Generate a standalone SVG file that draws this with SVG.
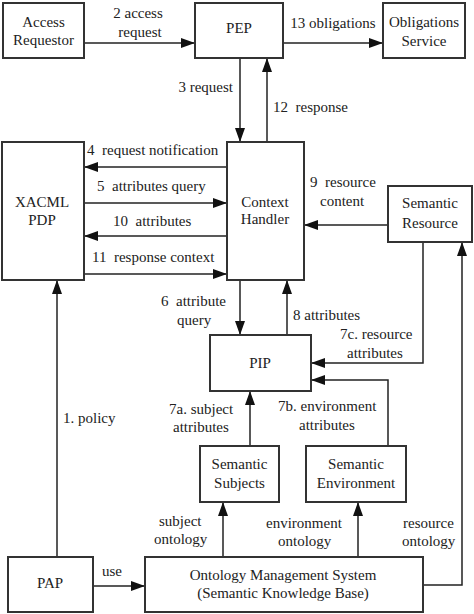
<svg xmlns="http://www.w3.org/2000/svg" width="474" height="614" viewBox="0 0 474 614">
<style>
.box{fill:#fff;stroke:#333;stroke-width:2}
.ln{fill:none;stroke:#222;stroke-width:1.5;marker-end:url(#ah)}
.c{text-anchor:middle}
</style>
<defs>
<marker id="ah" viewBox="0 0 14 10" refX="14" refY="5" markerWidth="14" markerHeight="10" markerUnits="userSpaceOnUse" orient="auto">
<path d="M0,0 L14,5 L0,10 Z" fill="#111"/>
</marker>
</defs>
<rect width="474" height="614" fill="#fff"/>
<g id="connectors">
<path class="ln" d="M84 43 H195"/>
<path class="ln" d="M283 43 H383"/>
<path class="ln" d="M240 58 V142"/>
<path class="ln" d="M267 142 V58"/>
<path class="ln" d="M227 167 H84"/>
<path class="ln" d="M84 203 H227"/>
<path class="ln" d="M227 236 H84"/>
<path class="ln" d="M84 274 H227"/>
<path class="ln" d="M388 225 H304"/>
<path class="ln" d="M240 280 V335"/>
<path class="ln" d="M287 335 V280"/>
<path class="ln" d="M423 242 V363 H311"/>
<path class="ln" d="M388 446 V380 H311"/>
<path class="ln" d="M250 446 V391"/>
<path class="ln" d="M57 557 V280"/>
<path class="ln" d="M223 557 V502"/>
<path class="ln" d="M358 557 V502"/>
<path class="ln" d="M423 585 H462 V242"/>
<path class="ln" d="M93 586 H145"/>
<text font-family="Liberation Serif, DejaVu Serif, serif" font-size="15" fill="#222" class="c" x="138" y="18">2 access</text>
<text font-family="Liberation Serif, DejaVu Serif, serif" font-size="15" fill="#222" class="c" x="140" y="37">request</text>
<text font-family="Liberation Serif, DejaVu Serif, serif" font-size="15" fill="#222" class="c" x="333" y="28">13 obligations</text>
<text font-family="Liberation Serif, DejaVu Serif, serif" font-size="15" fill="#222" x="233" y="92" text-anchor="end">3 request</text>
<text font-family="Liberation Serif, DejaVu Serif, serif" font-size="15" fill="#222" x="273" y="112" xml:space="preserve">12  response</text>
<text font-family="Liberation Serif, DejaVu Serif, serif" font-size="15" fill="#222" x="87" y="155" xml:space="preserve">4  request notification</text>
<text font-family="Liberation Serif, DejaVu Serif, serif" font-size="15" fill="#222" x="97" y="191" xml:space="preserve">5  attributes query</text>
<text font-family="Liberation Serif, DejaVu Serif, serif" font-size="15" fill="#222" x="113" y="226" xml:space="preserve">10  attributes</text>
<text font-family="Liberation Serif, DejaVu Serif, serif" font-size="15" fill="#222" x="92" y="262" xml:space="preserve">11  response context</text>
<text font-family="Liberation Serif, DejaVu Serif, serif" font-size="15" fill="#222" x="310" y="187" xml:space="preserve">9  resource</text>
<text font-family="Liberation Serif, DejaVu Serif, serif" font-size="15" fill="#222" x="320" y="206">content</text>
<text font-family="Liberation Serif, DejaVu Serif, serif" font-size="15" fill="#222" x="161" y="306" xml:space="preserve">6  attribute</text>
<text font-family="Liberation Serif, DejaVu Serif, serif" font-size="15" fill="#222" x="177" y="325">query</text>
<text font-family="Liberation Serif, DejaVu Serif, serif" font-size="15" fill="#222" x="293" y="320">8 attributes</text>
<text font-family="Liberation Serif, DejaVu Serif, serif" font-size="15" fill="#222" x="340" y="339">7c. resource</text>
<text font-family="Liberation Serif, DejaVu Serif, serif" font-size="15" fill="#222" x="347" y="358">attributes</text>
<text font-family="Liberation Serif, DejaVu Serif, serif" font-size="15" fill="#222" x="278" y="411">7b. environment</text>
<text font-family="Liberation Serif, DejaVu Serif, serif" font-size="15" fill="#222" x="299" y="430">attributes</text>
<text font-family="Liberation Serif, DejaVu Serif, serif" font-size="15" fill="#222" x="169" y="414">7a. subject</text>
<text font-family="Liberation Serif, DejaVu Serif, serif" font-size="15" fill="#222" x="173" y="432">attributes</text>
<text font-family="Liberation Serif, DejaVu Serif, serif" font-size="15" fill="#222" x="63" y="423">1. policy</text>
<text font-family="Liberation Serif, DejaVu Serif, serif" font-size="15" fill="#222" x="159" y="526">subject</text>
<text font-family="Liberation Serif, DejaVu Serif, serif" font-size="15" fill="#222" x="154" y="544">ontology</text>
<text font-family="Liberation Serif, DejaVu Serif, serif" font-size="15" fill="#222" x="266" y="528">environment</text>
<text font-family="Liberation Serif, DejaVu Serif, serif" font-size="15" fill="#222" x="278" y="546">ontology</text>
<text font-family="Liberation Serif, DejaVu Serif, serif" font-size="15" fill="#222" x="403" y="528">resource</text>
<text font-family="Liberation Serif, DejaVu Serif, serif" font-size="15" fill="#222" x="402" y="546">ontology</text>
<text font-family="Liberation Serif, DejaVu Serif, serif" font-size="15" fill="#222" x="102" y="576">use</text>
</g>
<g id="access-requestor"><rect class="box" x="3" y="3" width="81" height="55"/><text font-family="Liberation Serif, DejaVu Serif, serif" font-size="15" fill="#222" class="c" x="43.5" y="27">Access</text><text font-family="Liberation Serif, DejaVu Serif, serif" font-size="15" fill="#222" class="c" x="43.5" y="45">Requestor</text></g>
<g id="pep"><rect class="box" x="195" y="3" width="88" height="55"/><text font-family="Liberation Serif, DejaVu Serif, serif" font-size="15" fill="#222" class="c" x="239" y="33">PEP</text></g>
<g id="obligations-service"><rect class="box" x="383" y="3" width="82" height="55"/><text font-family="Liberation Serif, DejaVu Serif, serif" font-size="15" fill="#222" class="c" x="424" y="27">Obligations</text><text font-family="Liberation Serif, DejaVu Serif, serif" font-size="15" fill="#222" class="c" x="424" y="46">Service</text></g>
<g id="xacml-pdp"><rect class="box" x="2" y="142" width="82" height="138"/><text font-family="Liberation Serif, DejaVu Serif, serif" font-size="15" fill="#222" class="c" x="42" y="207">XACML</text><text font-family="Liberation Serif, DejaVu Serif, serif" font-size="15" fill="#222" class="c" x="42" y="225">PDP</text></g>
<g id="context-handler"><rect class="box" x="227" y="142" width="77" height="138"/><text font-family="Liberation Serif, DejaVu Serif, serif" font-size="15" fill="#222" class="c" x="265" y="207">Context</text><text font-family="Liberation Serif, DejaVu Serif, serif" font-size="15" fill="#222" class="c" x="265" y="224">Handler</text></g>
<g id="semantic-resource"><rect class="box" x="388" y="186" width="84" height="56"/><text font-family="Liberation Serif, DejaVu Serif, serif" font-size="15" fill="#222" class="c" x="430" y="208">Semantic</text><text font-family="Liberation Serif, DejaVu Serif, serif" font-size="15" fill="#222" class="c" x="430" y="228">Resource</text></g>
<g id="pip"><rect class="box" x="210" y="335" width="101" height="56"/><text font-family="Liberation Serif, DejaVu Serif, serif" font-size="15" fill="#222" class="c" x="260" y="368">PIP</text></g>
<g id="semantic-subjects"><rect class="box" x="200" y="446" width="79" height="56"/><text font-family="Liberation Serif, DejaVu Serif, serif" font-size="15" fill="#222" class="c" x="239.5" y="469">Semantic</text><text font-family="Liberation Serif, DejaVu Serif, serif" font-size="15" fill="#222" class="c" x="239.5" y="488">Subjects</text></g>
<g id="semantic-environment"><rect class="box" x="306" y="446" width="100" height="56"/><text font-family="Liberation Serif, DejaVu Serif, serif" font-size="15" fill="#222" class="c" x="356" y="469">Semantic</text><text font-family="Liberation Serif, DejaVu Serif, serif" font-size="15" fill="#222" class="c" x="356" y="488">Environment</text></g>
<g id="pap"><rect class="box" x="8" y="557" width="85" height="55"/><text font-family="Liberation Serif, DejaVu Serif, serif" font-size="15" fill="#222" class="c" x="50" y="588">PAP</text></g>
<g id="ontology-management"><rect class="box" x="145" y="557" width="278" height="55"/><text font-family="Liberation Serif, DejaVu Serif, serif" font-size="15" fill="#222" class="c" x="283" y="580">Ontology Management System</text><text font-family="Liberation Serif, DejaVu Serif, serif" font-size="15" fill="#222" class="c" x="283" y="598">(Semantic Knowledge Base)</text></g>
</svg>
